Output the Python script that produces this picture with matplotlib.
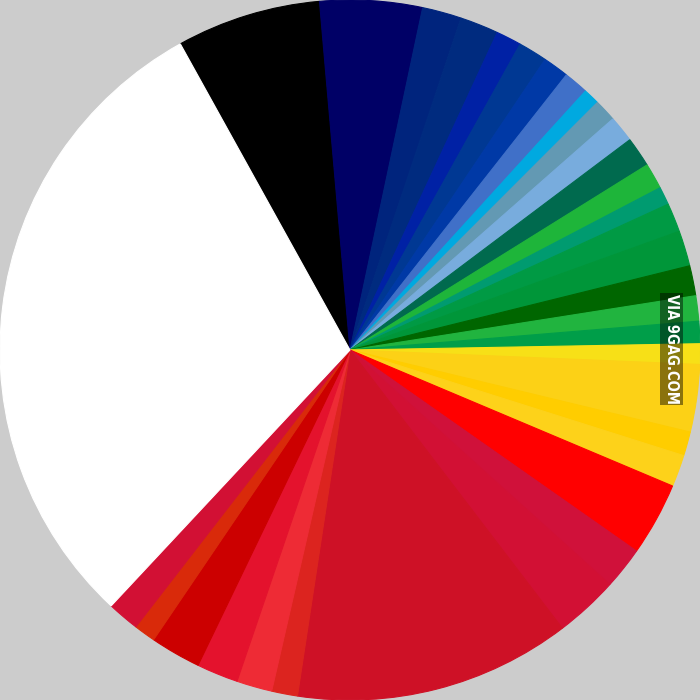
import matplotlib
matplotlib.use("Agg")
import matplotlib.pyplot as plt
from matplotlib.patches import Rectangle

# Share of each flag colour (degrees of the circle), clockwise from the black slice
categories = [
    "black", "navy", "blue 1", "blue 2", "blue 3", "blue 4", "blue 5",
    "light blue", "cyan", "steel blue", "sky blue",
    "dark green 1", "green 1", "teal green", "green 2", "green 3",
    "dark green 2", "green 4", "green 5",
    "yellow 1", "yellow 2", "yellow 3", "yellow 4",
    "red", "crimson 1", "crimson 2", "red 2",
    "red 3", "red 4", "red 5", "red 6", "orange red", "crimson 3",
    "white",
]
values = [
    24.0, 17.0, 6.5, 6.4, 4.2, 4.8, 4.3,
    4.1, 2.7, 3.7, 4.4,
    5.0, 4.3, 3.0, 4.8, 5.9,
    5.0, 4.2, 3.7,
    3.4, 11.2, 4.0, 5.3,
    12.2, 7.0, 10.6, 46.0,
    4.3, 5.9, 6.9, 8.4, 3.6, 5.3,
    108.0,
]
colors = [
    "#000000", "#000066", "#00247d", "#002b7f", "#0021a5", "#003893", "#0039a6",
    "#4070c8", "#00a9e0", "#6399b3", "#78acdd",
    "#006a4e", "#1eb53a", "#009b70", "#009a44", "#009639",
    "#006600", "#21b43f", "#009e49",
    "#f7e017", "#fcd116", "#ffcd00", "#fdd21a",
    "#ff0000", "#d0113a", "#d21034", "#ce1126",
    "#dc241f", "#ee2b35", "#e4122d", "#cc0000", "#d92a0a", "#d21034",
    "#ffffff",
]
watermark = "VIA 9GAG.COM"

fig = plt.figure(figsize=(7, 7), dpi=100)
fig.patch.set_facecolor("#cccccc")
ax = fig.add_axes([0, 0, 1, 1])
ax.set_facecolor("#cccccc")
wedges, _ = ax.pie(values, colors=colors, startangle=119.0, counterclock=False,
                   radius=1.0)
for w, c in zip(wedges, colors):
    w.set_edgecolor(c)
    w.set_linewidth(0.8)
ax.set_xlim(-1, 1)
ax.set_ylim(-1, 1)
ax.set_aspect("equal")
ax.axis("off")

fig.patches.append(Rectangle((0.943, 0.421), 0.033, 0.16, transform=fig.transFigure,
                             facecolor="black", alpha=0.45, edgecolor="none", zorder=5))
fig.text(0.9595, 0.501, watermark, rotation=-90, ha="center", va="center",
         color="white", fontsize=10.5, fontweight="bold",
         family=["Liberation Sans Narrow", "DejaVu Sans"],
         fontstretch="condensed", zorder=6)

fig.savefig("out.png", dpi=100, facecolor=fig.get_facecolor())
